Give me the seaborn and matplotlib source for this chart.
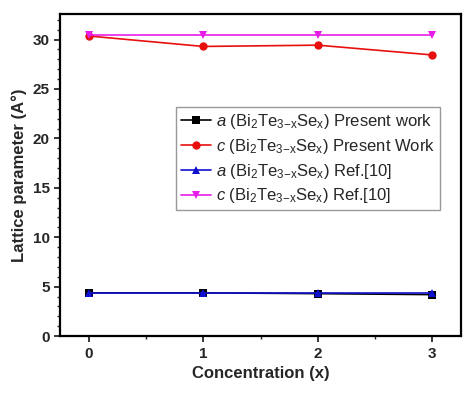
import matplotlib
matplotlib.use("Agg")
import matplotlib.pyplot as plt
from matplotlib.ticker import MultipleLocator
import pandas as pd
import seaborn as sns

concentration = [0, 1, 2, 3]
a_present = [4.38, 4.38, 4.30, 4.20]
c_present = [30.36, 29.30, 29.43, 28.44]
a_ref = [4.38, 4.38, 4.38, 4.38]
c_ref = [30.48, 30.48, 30.48, 30.48]

labels = [
    r"$a$ (Bi$_2$Te$_{\mathrm{3{-}x}}$Se$_\mathrm{x}$) Present work",
    r"$c$ (Bi$_2$Te$_{\mathrm{3{-}x}}$Se$_\mathrm{x}$) Present Work",
    r"$a$ (Bi$_2$Te$_{\mathrm{3{-}x}}$Se$_\mathrm{x}$) Ref.[10]",
    r"$c$ (Bi$_2$Te$_{\mathrm{3{-}x}}$Se$_\mathrm{x}$) Ref.[10]",
]
colors = ["black", "#e8100f", "#1010d0", "#e81ce8"]
markers = ["s", "o", "^", "v"]

rows = []
for lab, vals in zip(labels, [a_present, c_present, a_ref, c_ref]):
    for x, v in zip(concentration, vals):
        rows.append({"x": x, "y": v, "series": lab})
df = pd.DataFrame(rows)

sns.set_style("ticks")
plt.rcParams["font.family"] = ["Liberation Sans", "DejaVu Sans"]
plt.rcParams["mathtext.fontset"] = "custom"
plt.rcParams["mathtext.rm"] = "Liberation Sans"
plt.rcParams["mathtext.it"] = "Liberation Sans:italic"

fig = plt.figure(figsize=(4.74, 3.95), dpi=100)
ax = fig.add_axes([0.1266, 0.149, 0.846, 0.816])

sns.lineplot(data=df, x="x", y="y", hue="series", style="series",
             hue_order=labels, style_order=labels,
             palette=dict(zip(labels, colors)),
             markers=dict(zip(labels, markers)), dashes=False,
             markersize=6, markeredgewidth=0, linewidth=1.2, ax=ax)

ax.set_xlim(-0.25, 3.25)
ax.set_ylim(0, 32.6)
ax.set_xticks(concentration)
ax.xaxis.set_minor_locator(MultipleLocator(0.5))
ax.yaxis.set_major_locator(MultipleLocator(5))
ax.yaxis.set_minor_locator(MultipleLocator(1))
ax.tick_params(which="major", direction="out", length=4, width=1.3,
               labelsize=11)
ax.tick_params(which="minor", direction="out", length=2.5, width=1.0)
for t in ax.get_xticklabels() + ax.get_yticklabels():
    t.set_fontweight("bold")
for s in ax.spines.values():
    s.set_linewidth(1.6)
    s.set_color("black")

ax.set_xlabel("Concentration (x)", fontsize=12, fontweight="bold")
ax.set_ylabel("Lattice parameter (A°)", fontsize=12, fontweight="bold")

leg = ax.legend(loc="upper left", bbox_to_anchor=(0.268, 0.737), fontsize=12,
                frameon=True, fancybox=False, borderpad=0.3,
                labelspacing=0.35, handlelength=1.8, handletextpad=0.3)
leg.get_frame().set_edgecolor("gray")
leg.get_frame().set_linewidth(1.0)

fig.savefig("out.png", dpi=100)
